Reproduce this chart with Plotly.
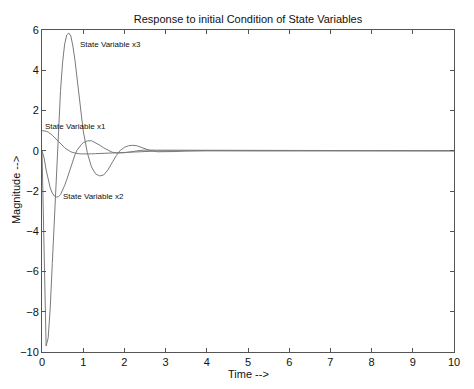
import plotly.graph_objects as go

t = [0, 0.05, 0.1, 0.15, 0.2, 0.25, 0.3, 0.35, 0.4, 0.45, 0.5, 0.55, 0.6, 0.65, 0.7,
     0.75, 0.8, 0.85, 0.9, 0.95, 1.0, 1.1, 1.2, 1.3, 1.4, 1.5, 1.6, 1.7, 1.8, 1.9,
     2.0, 2.1, 2.2, 2.3, 2.4, 2.5, 2.6, 2.8, 3.0, 3.2, 3.5, 4.0, 5, 6, 7, 8, 9, 10]

x1 = [1.0, 0.995, 0.97, 0.93, 0.86, 0.77, 0.67, 0.56, 0.45, 0.34, 0.24, 0.15, 0.07, 0.0, -0.05,
      -0.09, -0.12, -0.14, -0.15, -0.155, -0.16, -0.16, -0.155, -0.145, -0.135, -0.12, -0.11, -0.095, -0.085, -0.075,
      -0.065, -0.055, -0.047, -0.04, -0.033, -0.027, -0.022, -0.014, -0.008, -0.004, -0.001, 0.0, 0, 0, 0, 0, 0, 0]

x2 = [0.0, -0.35, -0.95, -1.45, -1.85, -2.1, -2.25, -2.3, -2.28, -2.18, -1.98, -1.72, -1.44, -1.1, -0.8,
      -0.5, -0.2, 0.02, 0.18, 0.3, 0.4, 0.49, 0.5, 0.4, 0.28, 0.14, 0.02, -0.07, -0.11, -0.12,
      -0.1, -0.07, -0.03, 0.0, 0.02, 0.03, 0.03, 0.02, 0.01, 0.0, 0.0, 0.0, 0, 0, 0, 0, 0, 0]

x3 = [0.0, -5.2, -9.7, -9.3, -7.8, -5.6, -3.3, -1.0, 1.2, 3.0, 4.4, 5.3, 5.75, 5.85, 5.7,
      5.2, 4.5, 3.6, 2.7, 1.8, 1.0, -0.1, -0.8, -1.15, -1.25, -1.2, -0.95, -0.6, -0.25, 0.02,
      0.17, 0.25, 0.27, 0.25, 0.18, 0.1, 0.03, -0.05, -0.06, -0.04, -0.01, 0.01, 0, 0, 0, 0, 0, 0]

labels = ["State Variable x1", "State Variable x2", "State Variable x3"]
label_x = [0.02, 0.47, 0.88]
label_y = [1.2, -2.25, 5.3]

FONT = "Liberation Sans"

fig = go.Figure()
for ys in (x1, x2, x3):
    fig.add_trace(go.Scatter(x=t, y=ys, mode="lines",
                             line=dict(color="#7a7a7a", width=1), showlegend=False))

for txt, lx, ly in zip(labels, label_x, label_y):
    fig.add_annotation(x=lx, y=ly, text=txt, showarrow=False, xanchor="left",
                       yanchor="middle", font=dict(family=FONT, size=8, color="#111"))

# axis titles as paper annotations for exact placement
fig.add_annotation(xref="paper", yref="paper", x=0.5, y=-0.069, yanchor="middle",
                   text="Time -->", showarrow=False, font=dict(family=FONT, size=11, color="#111"))
fig.add_annotation(xref="paper", yref="paper", x=-0.063, y=0.503, xanchor="center",
                   yanchor="middle", text="Magnitude -->", textangle=-90, showarrow=False,
                   font=dict(family=FONT, size=11, color="#111"))

axis_common = dict(showline=True, linecolor="#555", linewidth=1, mirror="ticks",
                   ticks="inside", ticklen=4, tickcolor="#555", showgrid=False,
                   zeroline=False, automargin=False,
                   tickfont=dict(family=FONT, size=11, color="#111"))

fig.update_layout(
    width=458, height=373,
    margin=dict(l=34, r=12, t=22, b=29, autoexpand=False),
    paper_bgcolor="white", plot_bgcolor="white",
    title=dict(text="Response to initial Condition of State Variables", x=0.524, xanchor="center",
               y=0.9705, yanchor="middle", font=dict(family=FONT, size=11, color="#111")),
    xaxis=dict(range=[0, 10], dtick=1, tick0=0, **axis_common),
    yaxis=dict(range=[-10, 6], dtick=2, tick0=0, **axis_common),
)

fig.write_html("out.html")
